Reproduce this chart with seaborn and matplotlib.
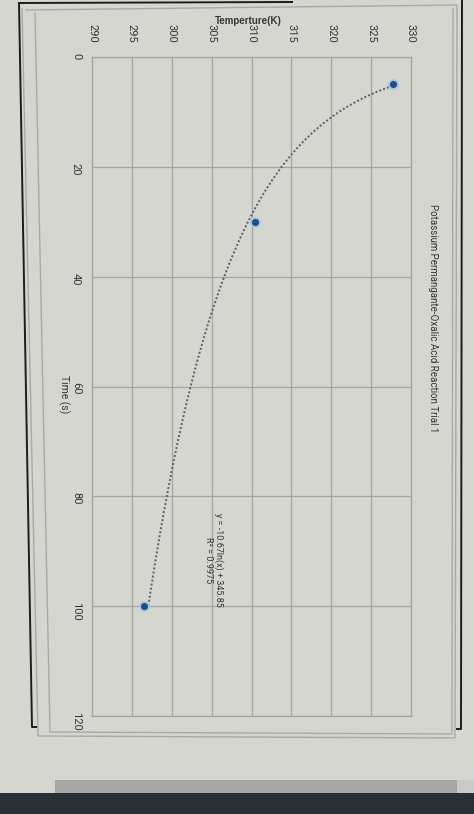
import numpy as np
import seaborn as sns
import matplotlib
matplotlib.use("Agg")
import matplotlib.pyplot as plt
from matplotlib.lines import Line2D
from matplotlib.patches import Rectangle
from matplotlib import font_manager as fm

# ---- data ----
time_s = [5, 30, 100]
temp_k = [327.8, 310.5, 296.5]
temp_ticks = [290, 295, 300, 305, 310, 315, 320, 325, 330]
time_ticks = [0, 20, 40, 60, 80, 100, 120]
title = "Potassium Permangante-Oxalic Acid Reaction Trial 1"
time_label = "Time (s)"
temp_label = "Temperture(K)"
eq_text = "y = -10.67ln(x) + 345.85"
r2_text = "R² = 0.9975"

W, H = 474, 814
sns.set_theme(style="white")
names = {f.name for f in fm.fontManager.ttflist}
narrow = "Liberation Sans Narrow" if "Liberation Sans Narrow" in names else "Roboto"
plt.rcParams["font.family"] = [narrow, "DejaVu Sans"]

bg = "#d6d6d1"
txt = "#353535"
grid_c = "#a4a4a1"
fig = plt.figure(figsize=(W / 100, H / 100), dpi=100, facecolor=bg)


def fx(x):
    return x / W


def fy(y):
    return 1 - y / H


def fline(xs, ys, color, lw):
    fig.add_artist(Line2D([fx(v) for v in xs], [fy(v) for v in ys],
                          transform=fig.transFigure, color=color, lw=lw,
                          solid_capstyle="butt"))


# plot area (chart is shown rotated: time runs down, temperature runs right)
L, R, T, B = 92, 411, 57, 716
ax = fig.add_axes([fx(L), fy(B), (R - L) / W, (B - T) / H])
ax.set_facecolor(bg)

sns.scatterplot(x=temp_k, y=time_s, ax=ax, s=42, color="#22507f",
                edgecolor="#a9c7e6", linewidth=1.3, zorder=5)
coef = np.polyfit(np.log(time_s), temp_k, 1)
tt = np.linspace(min(time_s), max(time_s), 300)
ax.plot(np.polyval(coef, np.log(tt)), tt, ls=(0, (1, 1.1)), color="#56606b",
        lw=1.4, zorder=4)

ax.set_xlim(290, 330)
ax.set_ylim(120, 0)
ax.set_xticks(temp_ticks)
ax.set_yticks(time_ticks)
ax.xaxis.tick_top()
ax.grid(True, color=grid_c, lw=0.9)
for s in ax.spines.values():
    s.set_color(grid_c)
    s.set_linewidth(0.9)
ax.tick_params(length=0, labelsize=8, labelcolor=txt)
ax.tick_params(axis="x", labelrotation=-90, pad=10)
ax.tick_params(axis="y", labelrotation=-90, pad=8)

ax.set_xlabel(temp_label, fontsize=7, fontweight="bold", color=txt,
              family=["Liberation Sans", "DejaVu Sans"])
ax.xaxis.set_label_position("top")
ax.xaxis.label.set_va("center")
ax.xaxis.set_label_coords(0.489, 1.0547)

ax.set_ylabel(time_label, fontsize=7.5, color=txt, rotation=-90)
ax.yaxis.label.set(va="center", ha="center", rotation_mode="default")
ax.yaxis.set_label_coords(-0.0878, 0.488)

ax.text(1.069, 0.603, title, transform=ax.transAxes, rotation=-90,
        ha="center", va="center", fontsize=7, color=txt)
ax.text(0.381, 0.237, eq_text + "\n" + r2_text, transform=ax.transAxes,
        rotation=-90, ha="center", va="center", multialignment="center",
        fontsize=6.5, color=txt, linespacing=1.1)

# ---- photographed worksheet frame ----
frame_c = "#a9a9a6"
fline([22, 38, 455, 457, 25], [8, 736, 738, 5, 10], frame_c, 1.0)
fline([35, 50, 452, 453], [12, 732, 734, 8], frame_c, 1.0)
fline([19, 32, 37], [2, 727, 727], "#1c1c1c", 1.4)
fline([19, 293], [3, 2], "#1c1c1c", 1.4)
fline([462, 461, 456], [0, 729, 729], "#1c1c1c", 1.4)

fig.add_artist(Rectangle((fx(55), fy(793)), fx(402), 13 / H,
                         transform=fig.transFigure, color="#a6a6a4", lw=0))
fig.add_artist(Rectangle((fx(457), fy(793)), fx(17), 13 / H,
                         transform=fig.transFigure, color="#c9c9c7", lw=0))
fig.add_artist(Rectangle((0, 0), 1, 21 / H, transform=fig.transFigure,
                         color="#2a2f35", lw=0))

fig.savefig("out.png", dpi=100, facecolor=bg)
